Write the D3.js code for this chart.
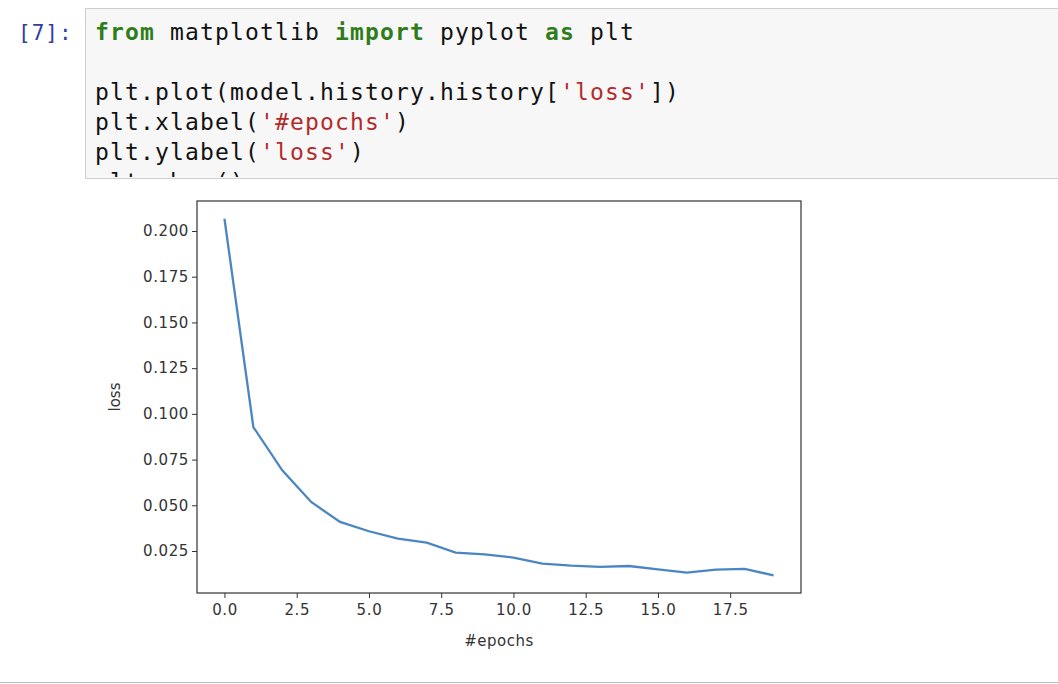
<!DOCTYPE html>
<html><head><meta charset="utf-8">
<script src="https://cdn.jsdelivr.net/npm/d3@7"></script>
<style>body{margin:0;background:#fff;}svg{display:block;}</style>
</head><body>
<script>
const epochs = d3.range(20);
const loss = [0.2067,0.0928,0.0691,0.0518,0.0409,0.0358,0.0318,0.0296,0.0241,0.0232,0.0214,0.0181,0.0170,0.0163,0.0168,0.0150,0.0132,0.0148,0.0152,0.0117];
const xTicks = [0,2.5,5,7.5,10,12.5,15,17.5];
const yTicks = [0.025,0.05,0.075,0.1,0.125,0.15,0.175,0.2];
const codeLines = [
 [["from","kw"],[" matplotlib ","t"],["import","kw"],[" pyplot ","t"],["as","kw"],[" plt","t"]],
 [],
 [["plt.plot(model.history.history[","t"],["'loss'","s"],["])","t"]],
 [["plt.xlabel(","t"],["'#epochs'","s"],[")","t"]],
 [["plt.ylabel(","t"],["'loss'","s"],[")","t"]],
 [["plt.show()","t"]]
];
const W=1058,H=684;
const svg=d3.select("body").append("svg").attr("width",W).attr("height",H);
svg.append("clipPath").attr("id","cc").append("rect").attr("x",86).attr("y",9).attr("width",980).attr("height",168);
svg.append("rect").attr("x",85.5).attr("y",8.5).attr("width",990).attr("height",170).attr("fill","#f7f7f7").attr("stroke","#cfcfcf");
svg.append("text").attr("x",18).attr("y",40).attr("fill","#303f9f").attr("font-family","DejaVu Sans Mono").attr("font-size",21).attr("letter-spacing",1).text("[7]:");
const colors={kw:"#2e7d1a",t:"#111",s:"#b22b2b"};
const cg=svg.append("g").attr("clip-path","url(#cc)");
const ys=[40,70,100,130,160,190];
codeLines.forEach((ln,i)=>{
  const t=cg.append("text").attr("x",95).attr("y",ys[i]).attr("font-family","DejaVu Sans Mono").attr("font-size",23).attr("letter-spacing",1.15).attr("xml:space","preserve");
  ln.forEach(([s,c])=>t.append("tspan").attr("fill",colors[c]).attr("font-weight",c==="kw"?"bold":"normal").text(s));
});
const L=197,R=801,T=201,B=593;
const x=d3.scaleLinear().domain([-0.95,19.95]).range([L,R]);
const y=d3.scaleLinear().domain([0.2-(B-231)/1828.6,0.2+(231-T)/1828.6]).range([B,T]);
const ax=svg.append("g").attr("transform",`translate(0,${B})`).call(d3.axisBottom(x).tickValues(xTicks).tickFormat(d3.format(".1f")).tickSize(5).tickSizeOuter(0));
const ay=svg.append("g").attr("transform",`translate(${L},0)`).call(d3.axisLeft(y).tickValues(yTicks).tickFormat(d3.format(".3f")).tickSize(5).tickSizeOuter(0));
[ax,ay].forEach(a=>{a.select(".domain").remove();a.selectAll("text").attr("font-family","DejaVu Sans").attr("font-size",15).attr("letter-spacing",0.6).attr("fill","#333");a.selectAll("line").attr("stroke","#333");});
ax.selectAll("text").attr("dy","0.95em");
svg.append("path").datum(loss).attr("fill","none").attr("stroke","#4a87c2").attr("stroke-width",2.3)
 .attr("d",d3.line().x((d,i)=>x(epochs[i])).y(d=>y(d)));
svg.append("rect").attr("x",L).attr("y",T).attr("width",R-L).attr("height",B-T).attr("fill","none").attr("stroke","#333").attr("stroke-width",1.2);
svg.append("text").attr("x",(L+R)/2).attr("y",646).attr("text-anchor","middle").attr("font-family","DejaVu Sans").attr("font-size",15).attr("letter-spacing",0.5).attr("fill","#333").text("#epochs");
svg.append("text").attr("transform","translate(120,397) rotate(-90)").attr("text-anchor","middle").attr("font-family","DejaVu Sans").attr("font-size",15).attr("fill","#333").text("loss");
svg.append("line").attr("x1",0).attr("x2",W).attr("y1",682.5).attr("y2",682.5).attr("stroke","#bbb");
</script>
</body></html>
